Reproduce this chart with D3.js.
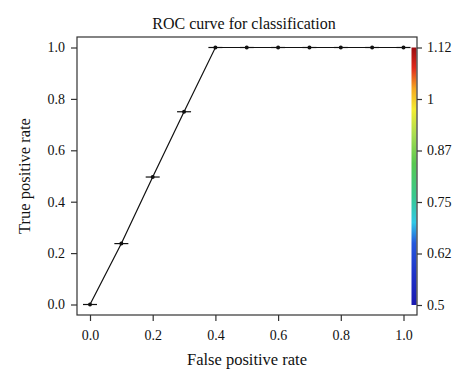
<!DOCTYPE html>
<html><head><meta charset="utf-8">
<script src="https://cdn.jsdelivr.net/npm/d3@7"></script>
<style>body{margin:0;background:#fff}svg{display:block}text{font-family:"Liberation Serif","DejaVu Serif",serif;fill:#111}</style>
</head><body><div id="chart"></div>
<script>
const fpr = [0, 0.1, 0.2, 0.3, 0.4, 0.5, 0.6, 0.7, 0.8, 0.9, 1.0];
const tpr = [0, 0.237, 0.496, 0.75, 1, 1, 1, 1, 1, 1, 1];
const xTicks = [0, 0.2, 0.4, 0.6, 0.8, 1.0];
const yTicks = [0, 0.2, 0.4, 0.6, 0.8, 1.0];
const cutoffTicks = [0.5, 0.624, 0.748, 0.872, 0.996, 1.12];
const cutoffLabels = ["0.5", "0.62", "0.75", "0.87", "1", "1.12"];
const paletteStops = [
  [0.00, "#1a1ab0"], [0.12, "#1e32c8"], [0.24, "#2458dc"], [0.32, "#30c8e6"],
  [0.42, "#38c890"], [0.55, "#58c850"], [0.66, "#a8dc50"], [0.76, "#f4ec30"],
  [0.84, "#f4a822"], [0.92, "#e02a1c"], [1.00, "#9a0c10"]
];

const W = 474, H = 388;
const svg = d3.select("#chart").append("svg").attr("width", W).attr("height", H);
const x = d3.scaleLinear().domain([0, 1]).range([90, 403.5]);
const y = d3.scaleLinear().domain([0, 1]).range([304.5, 47.5]);
const box = {l: 77, r: 417, t: 37, b: 315};

// colorbar
const cb = d3.scaleLinear().domain([0.5, 1.12]).range([305, 47.5]);
const defs = svg.append("defs");
const grad = defs.append("linearGradient").attr("id", "pal")
  .attr("x1", 0).attr("y1", 1).attr("x2", 0).attr("y2", 0);
paletteStops.forEach(s => grad.append("stop").attr("offset", s[0]).attr("stop-color", s[1]));
svg.append("rect").attr("x", 411.5).attr("y", cb(1.12)).attr("width", 5)
  .attr("height", cb(0.5) - cb(1.12)).attr("fill", "url(#pal)");

// curve
const line = d3.line().x((d, i) => x(fpr[i])).y(d => y(d));
svg.append("path").datum(tpr).attr("d", line).attr("fill", "none").attr("stroke", "#111").attr("stroke-width", 1.2);
// whiskers
svg.append("g").selectAll("line").data(tpr).join("line")
  .attr("x1", (d, i) => x(fpr[i]) - 7).attr("x2", (d, i) => x(fpr[i]) + 7)
  .attr("y1", d => y(d)).attr("y2", d => y(d)).attr("stroke", "#111").attr("stroke-width", 1.2);
svg.append("g").selectAll("circle").data(tpr).join("circle")
  .attr("cx", (d, i) => x(fpr[i])).attr("cy", d => y(d)).attr("r", 2).attr("fill", "#111");

// box
svg.append("rect").attr("x", box.l).attr("y", box.t).attr("width", box.r - box.l).attr("height", box.b - box.t)
  .attr("fill", "none").attr("stroke", "#333").attr("stroke-width", 1.2);

// axes
const xa = svg.append("g").attr("transform", `translate(0,${box.b})`)
  .call(d3.axisBottom(x).tickValues(xTicks).tickFormat(d3.format(".1f")).tickSize(6).tickPadding(6).tickSizeOuter(0));
const ya = svg.append("g").attr("transform", `translate(${box.l},0)`)
  .call(d3.axisLeft(y).tickValues(yTicks).tickFormat(d3.format(".1f")).tickSize(6).tickPadding(6).tickSizeOuter(0));
const ca = svg.append("g").attr("transform", `translate(${box.r},0)`)
  .call(d3.axisRight(cb).tickValues(cutoffTicks).tickFormat((d, i) => cutoffLabels[i]).tickSize(5).tickPadding(5).tickSizeOuter(0));
[xa, ya, ca].forEach(g => {
  g.select(".domain").remove();
  g.selectAll(".tick line").attr("stroke", "#333").attr("stroke-width", 1.2);
  g.selectAll(".tick text").attr("font-size", 14).style("fill", "#111");
});
xa.selectAll(".tick text").attr("dy", "0.9em");

// titles
svg.append("text").attr("x", 244).attr("y", 29).attr("text-anchor", "middle").attr("font-size", 16).text("ROC curve for classification");
svg.append("text").attr("x", 247).attr("y", 365).attr("text-anchor", "middle").attr("font-size", 16.5).text("False positive rate");
svg.append("text").attr("transform", "translate(30,176) rotate(-90)").attr("text-anchor", "middle").attr("font-size", 16.5).text("True positive rate");
</script></body></html>
